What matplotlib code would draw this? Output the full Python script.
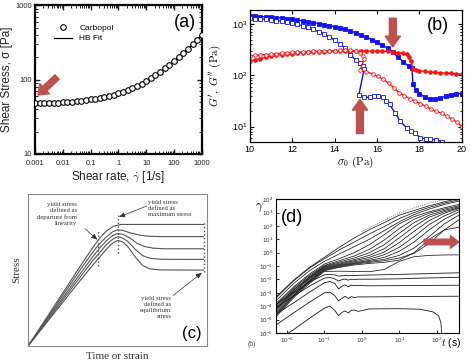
import numpy as np
import matplotlib
matplotlib.use("Agg")
import matplotlib.pyplot as plt
from matplotlib.ticker import FixedLocator, FixedFormatter, LogLocator, NullFormatter

plt.rcParams['font.family'] = ['Liberation Sans', 'DejaVu Sans']
plt.rcParams['mathtext.fontset'] = 'cm'

ARROW_RED = '#c0504d'
SERIF = ['Liberation Serif', 'DejaVu Serif']

# ---- (a) flow curve of Carbopol ----
shear_rate = [0.001, 0.00147, 0.00215, 0.00316, 0.00464, 0.00681, 0.01, 0.0147, 0.0215,
              0.0316, 0.0464, 0.0681, 0.1, 0.147, 0.215, 0.316, 0.464, 0.681, 1, 1.47,
              2.15, 3.16, 4.64, 6.81, 10, 14.7, 21.5, 31.6, 46.4, 68.1, 100, 147, 215,
              316, 464, 681, 1000]
carbopol_stress = [48, 48, 48.5, 48.5, 49, 49, 49.5, 50, 50.5, 51, 52, 53, 54, 55, 56, 58,
                   60, 62, 65, 68, 72, 76, 82, 88, 95, 104, 114, 126, 141, 157, 177, 201,
                   228, 261, 299, 344, 398]
hb_fit_stress = [47.9, 48.1, 48.3, 48.5, 48.8, 49.1, 49.5, 49.9, 50.5, 51.1, 51.8, 52.7,
                 53.7, 54.9, 56.3, 58, 59.9, 62.3, 65, 68.2, 72, 76.5, 81.8, 88.1, 95.4,
                 104, 114, 126, 141, 157, 177, 201, 228, 261, 299, 344, 398]
rate_ticks = [0.001, 0.01, 0.1, 1, 10, 100, 1000]
rate_labels = ['0.001', '0.01', '0.1', '1', '10', '100', '1000']
stress_ticks = [10, 100, 1000]
stress_labels = ['10', '100', '1000']

# ---- (b) stress sweeps, G' (blue) and G'' (red) ----
gp_up_sigma = [10.0, 10.25, 10.5, 10.75, 11.0, 11.25, 11.5, 11.75, 12.0, 12.25, 12.5, 12.75,
               13.0, 13.25, 13.5, 13.75, 14.0, 14.25, 14.5, 14.75, 15.0, 15.25, 15.5, 15.75,
               16.0, 16.25, 16.5, 16.75, 17.0, 17.25, 17.5, 17.65, 17.7, 17.85, 18.0, 18.25,
               18.5, 18.75, 19.0, 19.25, 19.5, 19.75, 20.0]
gp_up = [1430, 1420, 1405, 1385, 1365, 1340, 1310, 1275, 1240, 1200, 1160, 1115, 1070, 1025,
         980, 935, 890, 840, 790, 735, 680, 620, 560, 500, 440, 390, 340, 280, 225, 185, 150,
         140, 68, 52, 44, 38, 35, 35, 36, 39, 42, 44, 44]

gp_down_sigma = [10.0, 10.25, 10.5, 10.75, 11.0, 11.25, 11.5, 11.75, 12.0, 12.25, 12.5, 12.75,
                 13.0, 13.25, 13.5, 13.75, 14.0, 14.25, 14.5, 14.75, 15.0, 15.2, 15.35, 15.4,
                 15.15, 15.4, 15.65, 15.85, 16.05, 16.3, 16.45, 16.6, 16.85, 17.1, 17.4, 17.6,
                 17.8, 18.05, 18.3, 18.5, 18.8, 19.05]
gp_down = [1300, 1285, 1265, 1240, 1210, 1175, 1140, 1090, 1040, 985, 925, 860, 790, 710, 640,
           570, 490, 410, 340, 250, 200, 175, 150, 135, 42, 38, 37, 39, 39, 37, 32, 27, 18.6,
           12.7, 9.4, 8.2, 7.5, 6.0, 5.8, 5.7, 5.5, 5.1]

gpp_up_sigma = [10.0, 10.25, 10.5, 10.75, 11.0, 11.25, 11.5, 11.75, 12.0, 12.25, 12.5, 12.75,
                13.0, 13.25, 13.5, 13.75, 14.0, 14.25, 14.5, 14.75, 15.0, 15.25, 15.5, 15.75,
                16.0, 16.25, 16.5, 16.75, 17.0, 17.25, 17.4, 17.5, 17.6, 17.7, 17.85, 18.0,
                18.25, 18.5, 18.75, 19.0, 19.25, 19.5, 19.75, 20.0]
gpp_up = [190, 200, 212, 224, 236, 244, 252, 259, 266, 272, 278, 282, 286, 289, 291, 293, 294,
          295, 296, 297, 297, 297, 297, 296, 296, 295, 293, 288, 278, 268, 258, 230, 190, 135,
          126, 122, 119, 116, 114, 112, 111, 109, 107, 105]

gpp_down_sigma = [10.0, 10.25, 10.5, 10.75, 11.0, 11.25, 11.5, 11.75, 12.0, 12.25, 12.5, 12.75,
                  13.0, 13.25, 13.5, 13.75, 14.0, 14.25, 14.5, 14.75, 15.0, 15.2, 15.35, 15.4,
                  15.2, 15.5, 15.8, 16.05, 16.3, 16.55, 16.8, 17.05, 17.3, 17.55, 17.8, 18.05,
                  18.3, 18.55, 18.8, 19.05, 19.3, 19.55, 19.8, 20.0]
gpp_down = [240, 245, 250, 255, 260, 265, 270, 275, 280, 284, 288, 291, 294, 297, 300, 302, 305,
            308, 312, 310, 295, 270, 235, 210, 125, 118, 105, 95, 84, 70, 57, 46, 40, 35, 31, 28,
            25, 22, 20, 18, 16, 14, 12, 10]

# ---- (c) schematic start-up curves (axes fraction units) ----
startup_x = [
    [0, 0.30, 0.36, 0.40, 0.44, 0.48, 0.52, 0.60, 0.98],
    [0, 0.30, 0.36, 0.40, 0.44, 0.47, 0.50, 0.53, 0.57, 0.62, 0.68, 0.75, 0.98],
    [0, 0.30, 0.36, 0.40, 0.44, 0.47, 0.50, 0.53, 0.57, 0.61, 0.65, 0.70, 0.76, 0.98],
    [0, 0.30, 0.36, 0.40, 0.44, 0.47, 0.50, 0.53, 0.56, 0.60, 0.64, 0.68, 0.74, 0.98],
    [0, 0.30, 0.36, 0.40, 0.44, 0.47, 0.50, 0.53, 0.56, 0.60, 0.64, 0.68, 0.74, 0.98],
]
startup_y = [
    [0, 0.54, 0.645, 0.71, 0.76, 0.79, 0.80, 0.80, 0.80],
    [0, 0.516, 0.615, 0.675, 0.72, 0.75, 0.765, 0.76, 0.745, 0.73, 0.722, 0.72, 0.72],
    [0, 0.49, 0.585, 0.645, 0.695, 0.725, 0.74, 0.735, 0.71, 0.675, 0.655, 0.644, 0.64, 0.64],
    [0, 0.468, 0.56, 0.615, 0.67, 0.70, 0.72, 0.71, 0.685, 0.635, 0.595, 0.578, 0.571, 0.57],
    [0, 0.444, 0.53, 0.585, 0.64, 0.675, 0.695, 0.685, 0.65, 0.585, 0.53, 0.508, 0.501, 0.50],
]

# ---- (d) creep curves, log10(strain) ----
t_fluid = [0.0051, 0.016, 0.04, 0.1, 0.25, 0.63, 1.6, 4.0, 10, 25, 63, 160, 390]
log_strain_fluid = [
    [-3.3, -2.0, -1.1, -0.35, 0.4, 1.1, 1.72, 2.25, 2.8, 3.15, 3.5, 3.8, 4.05],
    [-3.4, -2.05, -1.15, -0.45, 0.2, 0.8, 1.4, 1.95, 2.55, 3.0, 3.38, 3.7, 3.95],
    [-3.6, -2.25, -1.35, -0.65, -0.1, 0.45, 1.0, 1.65, 2.3, 2.85, 3.25, 3.6, 3.85],
    [-3.8, -2.5, -1.6, -0.85, -0.45, 0.0, 0.6, 1.35, 2.15, 2.7, 3.05, 3.35, 3.6],
    [-3.9, -2.6, -1.7, -0.95, -0.6, -0.25, 0.25, 0.95, 1.8, 2.5, 2.95, 3.25, 3.5],
    [-4.0, -2.7, -1.8, -1.0, -0.7, -0.4, 0.0, 0.6, 1.45, 2.25, 2.8, 3.15, 3.42],
    [-4.1, -2.75, -1.85, -1.05, -0.78, -0.52, -0.2, 0.3, 1.1, 1.95, 2.65, 3.05, 3.35],
    [-4.2, -2.85, -1.9, -1.1, -0.85, -0.6, -0.35, 0.05, 0.75, 1.6, 2.4, 2.95, 3.3],
    [-4.3, -2.9, -1.95, -1.15, -0.9, -0.68, -0.48, -0.15, 0.4, 1.2, 2.1, 2.75, 3.2],
    [-4.4, -3.0, -2.05, -1.2, -0.95, -0.75, -0.58, -0.35, 0.1, 0.8, 1.7, 2.5, 3.05],
    [-4.5, -3.1, -2.1, -1.25, -1.0, -0.8, -0.65, -0.5, -0.2, 0.35, 1.2, 2.15, 2.8],
    [-4.6, -3.15, -2.15, -1.3, -1.05, -0.85, -0.72, -0.6, -0.4, -0.05, 0.7, 1.7, 2.45],
    [-4.7, -3.2, -2.2, -1.35, -1.1, -0.92, -0.8, -0.72, -0.55, 0.0, 1.0, 1.7, 1.9],
    [-4.8, -3.3, -2.3, -1.4, -1.38, -1.4, -1.42, -1.25, -0.65, -0.3, -0.2, -0.17, -0.16],
]
t_dotted = [1.0, 1.6, 4.0, 10, 25, 63, 160, 390]
log_strain_dotted = [1.55, 1.85, 2.4, 2.95, 3.35, 3.7, 3.95, 4.2]

t_solid = [0.0051, 0.016, 0.04, 0.1, 0.14, 0.19, 0.24, 0.3, 0.36, 0.44, 0.52, 0.63, 0.8,
           1.6, 10, 36, 80, 390]
log_strain_solid = [
    [-3.85, -2.95, -2.2, -1.65, -1.62, -1.66, -1.75, -1.72, -1.7, -1.72, -1.7, -1.7, -1.69,
     -1.67, -1.62, -1.58, -1.55, -1.5],
    [-4.1, -3.2, -2.5, -1.9, -1.85, -1.95, -2.12, -2.0, -1.97, -2.05, -1.98, -2.0, -1.98,
     -1.98, -1.95, -1.9, -1.88, -1.84],
    [-4.6, -3.7, -2.95, -2.25, -2.15, -2.3, -2.7, -2.5, -2.4, -2.55, -2.42, -2.47, -2.45,
     -2.47, -2.46, -2.45, -2.44, -2.43],
    [-5.4, -4.45, -3.7, -3.0, -2.95, -3.2, -3.6, -3.4, -3.25, -3.42, -3.28, -3.35, -3.3,
     -3.3, -3.28, -3.27, -3.26, -3.25],
]
t_break = [0.0051, 0.016, 0.04, 0.1, 0.14, 0.19, 0.24, 0.3, 0.36, 0.44, 0.52, 0.63, 0.8,
           1.6, 10, 36, 80, 112, 129, 138]
log_strain_break = [-6.6, -5.7, -4.9, -4.15, -3.98, -4.3, -4.7, -4.45, -4.35, -4.5, -4.3,
                    -4.28, -4.38, -4.2, -4.18, -4.22, -4.42, -4.7, -5.2, -6.2]

fig = plt.figure(figsize=(4.74, 3.64), dpi=100)

# ===== panel (a) =====
ax_a = fig.add_axes([0.0738, 0.577, 0.352, 0.409])
ax_a.plot(shear_rate, hb_fit_stress, color='black', lw=0.9, label='HB Fit', zorder=2)
ax_a.plot(shear_rate, carbopol_stress, 'o', ms=4, mfc='white', mec='black', mew=0.8,
          label='Carbopol', zorder=3)
ax_a.set_xscale('log')
ax_a.set_yscale('log')
ax_a.set_xlim(0.001, 1000)
ax_a.set_ylim(10, 1000)
ax_a.xaxis.set_major_locator(FixedLocator(rate_ticks))
ax_a.xaxis.set_major_formatter(FixedFormatter(rate_labels))
ax_a.yaxis.set_major_locator(FixedLocator(stress_ticks))
ax_a.yaxis.set_major_formatter(FixedFormatter(stress_labels))
for axis in (ax_a.xaxis, ax_a.yaxis):
    axis.set_minor_locator(LogLocator(base=10, subs=np.arange(2, 10)))
    axis.set_minor_formatter(NullFormatter())
ax_a.tick_params(which='both', direction='in', top=True, right=True, labelsize=5.5,
                 colors='#222222')
ax_a.tick_params(axis='x', pad=4)
ax_a.tick_params(axis='y', pad=2)
ax_a.tick_params(which='major', length=3.5, width=1)
ax_a.tick_params(which='minor', length=2, width=0.7)
for sp in ax_a.spines.values():
    sp.set_linewidth(1.6)
ax_a.set_xlabel(r'Shear rate, $\dot{\gamma}$ [1/s]', fontsize=8.5, color='#222222', labelpad=2)
ax_a.set_ylabel('Shear Stress, σ [Pa]', fontsize=8.5, color='#222222', labelpad=2)
handles, labels = ax_a.get_legend_handles_labels()
ax_a.legend(handles[::-1], labels[::-1], loc='upper left', bbox_to_anchor=(0.08, 0.91),
            frameon=False, fontsize=6, handlelength=2.2, labelspacing=0.3, borderpad=0.2)
ax_a.text(0.9, 0.88, '(a)', transform=ax_a.transAxes, fontsize=13, ha='center', va='center')
ax_a.annotate('', xy=(0.00128, 62), xytext=(0.0062, 108),
              arrowprops=dict(arrowstyle='simple,head_length=0.6,head_width=0.9,tail_width=0.4',
                              color=ARROW_RED, mutation_scale=11, shrinkA=0, shrinkB=0))

# ===== panel (b) =====
ax_b = fig.add_axes([0.527, 0.610, 0.447, 0.363])
ax_b.plot(gp_up_sigma, gp_up, '-s', color='#1010ff', ms=2.6, mfc='#1010ff', mew=0.6, lw=1.0)
ax_b.plot(gp_down_sigma, gp_down, '-s', color='#1010ff', ms=2.6, mfc='white', mew=0.6, lw=1.0)
ax_b.plot(gpp_up_sigma, gpp_up, '-o', color='#ff1010', ms=2.6, mfc='#ff1010', mew=0.6, lw=1.0)
ax_b.plot(gpp_down_sigma, gpp_down, '-o', color='#ff1010', ms=2.6, mfc='white', mew=0.6, lw=1.0)
ax_b.set_yscale('log')
ax_b.set_xlim(10, 20)
ax_b.set_ylim(5, 1900)
ax_b.set_xticks([10, 12, 14, 16, 18, 20])
ax_b.tick_params(which='both', direction='in', top=True, right=True, labelsize=6.5, pad=2)
ax_b.tick_params(which='major', length=3)
ax_b.tick_params(which='minor', length=1.5)
for sp in ax_b.spines.values():
    sp.set_linewidth(0.9)
ax_b.set_xlabel(r'$\sigma_0\ \mathrm{(Pa)}$', fontsize=8, labelpad=1)
ax_b.set_ylabel(r"$G',\ G''\ \mathrm{(Pa)}$", fontsize=8, labelpad=6)
ax_b.text(0.89, 0.88, '(b)', transform=ax_b.transAxes, fontsize=13, ha='center', va='center')
big_arrow = dict(arrowstyle='simple,head_length=0.7,head_width=1.0,tail_width=0.45',
                 color=ARROW_RED, mutation_scale=11, shrinkA=0, shrinkB=0)
ax_b.annotate('', xy=(16.75, 360), xytext=(16.75, 1300), arrowprops=big_arrow)
ax_b.annotate('', xy=(15.2, 34), xytext=(15.2, 7.3), arrowprops=big_arrow)

# ===== panel (c) =====
ax_c = fig.add_axes([0.059, 0.049, 0.378, 0.418])
for xs, ys in zip(startup_x, startup_y):
    ax_c.plot(xs, ys, color='#555555', lw=0.8)
ax_c.plot([0.39, 0.39], [0.53, 0.76], ls=':', color='#555555', lw=1.0)
ax_c.plot([0.50, 0.50], [0.61, 0.86], ls=':', color='#555555', lw=1.0)
ax_c.plot([0.98, 0.98], [0.49, 0.815], ls=':', color='#555555', lw=1.0)
ax_c.set_xlim(0, 1)
ax_c.set_ylim(0, 1)
ax_c.set_xticks([])
ax_c.set_yticks([])
for sp in ax_c.spines.values():
    sp.set_linewidth(0.8)
    sp.set_color('#888888')
ax_c.set_xlabel('Time or strain', family=SERIF, fontsize=8, color='#333333', labelpad=4)
ax_c.set_ylabel('Stress', family=SERIF, fontsize=8, color='#333333', labelpad=5)
small = dict(family=SERIF, fontsize=4.8, color='#333333', linespacing=1.2)
thin_arrow = dict(arrowstyle='-|>,head_length=0.35,head_width=0.15', color='#333333',
                  lw=0.5, shrinkA=0, shrinkB=0)
ax_c.text(0.275, 0.945, 'yield stress\ndefined as\ndeparture from\nlinearity',
          ha='right', va='top', multialignment='right', **small)
ax_c.annotate('', xy=(0.387, 0.70), xytext=(0.318, 0.772), arrowprops=thin_arrow)
ax_c.text(0.672, 0.958, 'yield stress\ndefined as\nmaximum stress',
          ha='left', va='top', multialignment='left', **small)
ax_c.annotate('', xy=(0.508, 0.849), xytext=(0.663, 0.921), arrowprops=thin_arrow)
ax_c.text(0.80, 0.327, 'yield stress\ndefined as\nequilibrium\nstress',
          ha='right', va='top', multialignment='right', **small)
ax_c.annotate('', xy=(0.97, 0.482), xytext=(0.81, 0.333), arrowprops=thin_arrow)
ax_c.text(0.914, 0.081, '(c)', transform=ax_c.transAxes, fontsize=12, ha='center', va='center')

# ===== panel (d) =====
ax_d = fig.add_axes([0.582, 0.085, 0.386, 0.368])
for curve in log_strain_fluid:
    ax_d.plot(t_fluid, 10.0 ** np.array(curve), color='#1a1a1a', lw=0.55)
ax_d.plot(t_dotted, 10.0 ** np.array(log_strain_dotted), color='#444444', lw=0.6, ls=':')
for curve in log_strain_solid:
    ax_d.plot(t_solid, 10.0 ** np.array(curve), color='#1a1a1a', lw=0.6)
ax_d.plot(t_break, 10.0 ** np.array(log_strain_break), color='#1a1a1a', lw=0.6)
ax_d.set_xscale('log')
ax_d.set_yscale('log')
ax_d.set_xlim(0.0051, 390)
ax_d.set_ylim(1e-6, 1e4)
ax_d.xaxis.set_major_locator(LogLocator(base=10, numticks=10))
ax_d.yaxis.set_major_locator(LogLocator(base=10, numticks=20))
ax_d.xaxis.set_minor_formatter(NullFormatter())
ax_d.yaxis.set_minor_formatter(NullFormatter())
ax_d.tick_params(which='both', direction='in', labelsize=4.5, pad=2, colors='#333333')
ax_d.tick_params(which='major', length=2)
ax_d.tick_params(which='minor', length=0)
for sp in ax_d.spines.values():
    sp.set_linewidth(0.8)
ax_d.text(-0.09, 0.935, r'$\gamma$', transform=ax_d.transAxes, fontsize=9, ha='center',
          va='center')
ax_d.text(0.96, -0.075, r'$t$ (s)', transform=ax_d.transAxes, fontsize=7.5, ha='center',
          va='center')
ax_d.text(-0.13, -0.085, '(b)', transform=ax_d.transAxes, fontsize=5, ha='center',
          va='center', color='#555555')
ax_d.text(0.09, 0.86, '(d)', transform=ax_d.transAxes, fontsize=13, ha='center', va='center')
ax_d.annotate('', xy=(1.0, 0.68), xytext=(0.81, 0.68), xycoords='axes fraction',
              textcoords='axes fraction',
              arrowprops=dict(arrowstyle='simple,head_length=0.6,head_width=0.9,tail_width=0.4',
                              color=ARROW_RED, mutation_scale=10, shrinkA=0, shrinkB=0))

fig.savefig('out.png', dpi=100)
